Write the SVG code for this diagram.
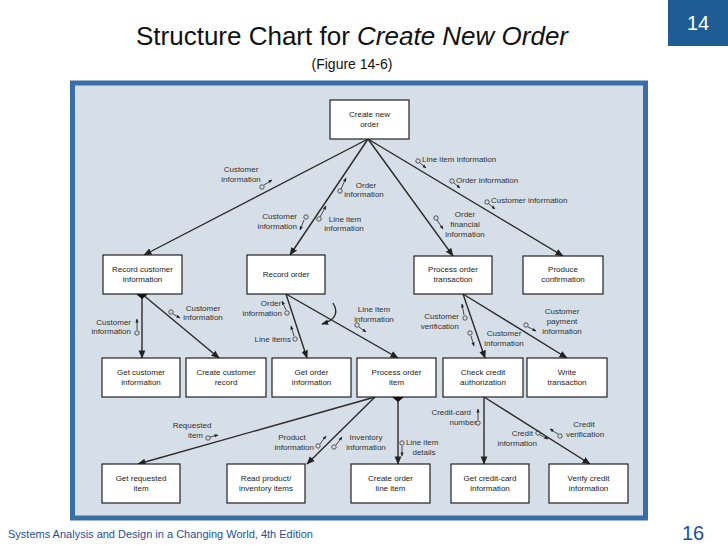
<svg xmlns="http://www.w3.org/2000/svg" width="728" height="546" viewBox="0 0 728 546">
<style>
.bx{fill:#fff;stroke:#222;stroke-width:1.2}
.bt{font-family:"Liberation Sans",Arial,sans-serif;font-size:8px;fill:#222;text-anchor:middle}
.lb{font-family:"Liberation Sans",Arial,sans-serif;font-size:8px;fill:#333}
.c{stroke:#2a2a2a;stroke-width:1.4;fill:none}
.dc circle{fill:none;stroke:#333;stroke-width:0.8}
.dc line{stroke:#222;stroke-width:0.8}
</style>
<defs>
<marker id="ah" viewBox="0 0 10 10" refX="9" refY="5" markerWidth="6" markerHeight="6" orient="auto"><path d="M0,1 L10,5 L0,9 z" fill="#222"/></marker>
<marker id="sa" viewBox="0 0 10 10" refX="9" refY="5" markerWidth="5" markerHeight="5" orient="auto"><path d="M0,1 L10,5 L0,9 z" fill="#222"/></marker>
</defs>
<rect width="728" height="546" fill="#fff"/>
<text x="352" y="45" font-family="Liberation Sans,Arial,sans-serif" font-size="26" fill="#111" text-anchor="middle">Structure Chart for <tspan font-style="italic">Create New Order</tspan></text>
<text x="352" y="69" font-family="Liberation Sans,Arial,sans-serif" font-size="14" fill="#111" text-anchor="middle">(Figure 14-6)</text>
<rect x="668" y="0" width="60" height="46" fill="#1f5b95"/>
<text x="698" y="30" font-family="Liberation Sans,Arial,sans-serif" font-size="20" fill="#fff" text-anchor="middle">14</text>
<text x="8" y="538" font-family="Liberation Sans,Arial,sans-serif" font-size="11" fill="#1f4f9a">Systems Analysis and Design in a Changing World, 4th Edition</text>
<text x="693" y="540" font-family="Liberation Sans,Arial,sans-serif" font-size="20" fill="#1f4f9a" text-anchor="middle">16</text>
<rect x="72.500" y="83" width="573" height="435" fill="#d6dee7" stroke="#3a6ea8" stroke-width="5"/>
<g id="connectors">
<line class="c" x1="368" y1="139" x2="144" y2="255" marker-end="url(#ah)"/>
<line class="c" x1="368" y1="139" x2="290" y2="255" marker-end="url(#ah)"/>
<line class="c" x1="368" y1="139" x2="453" y2="256" marker-end="url(#ah)"/>
<line class="c" x1="368" y1="139" x2="563" y2="256" marker-end="url(#ah)"/>
<line class="c" x1="142" y1="294" x2="142" y2="358" marker-end="url(#ah)"/>
<line class="c" x1="142" y1="294" x2="219" y2="358" marker-end="url(#ah)"/>
<path d="M136,294 L142,289 L148,294 L142,299 z" fill="#111"/>
<line class="c" x1="286" y1="294" x2="307" y2="358" marker-end="url(#ah)"/>
<line class="c" x1="286" y1="294" x2="398" y2="358" marker-end="url(#ah)"/>
<path d="M333,303 Q342,318 322,324" class="c" stroke-width="1" marker-end="url(#sa)"/>
<line class="c" x1="463" y1="294" x2="485" y2="358" marker-end="url(#ah)"/>
<line class="c" x1="463" y1="294" x2="567" y2="358" marker-end="url(#ah)"/>
<line class="c" x1="375" y1="397" x2="138" y2="464" marker-end="url(#ah)"/>
<line class="c" x1="375" y1="397" x2="307" y2="464" marker-end="url(#ah)"/>
<line class="c" x1="398" y1="397" x2="398" y2="464" marker-end="url(#ah)"/>
<path d="M392,397 L398,392 L404,397 L398,402 z" fill="#111"/>
<line class="c" x1="484" y1="397" x2="484" y2="464" marker-end="url(#ah)"/>
<line class="c" x1="484" y1="397" x2="590" y2="464" marker-end="url(#ah)"/>
</g>
<g id="couples">
<g class="dc"><circle cx="262" cy="187" r="2.2"/><line x1="264" y1="185" x2="272" y2="180" marker-end="url(#sa)"/></g>
<g class="dc"><circle cx="340" cy="191" r="2.2"/><line x1="341" y1="189" x2="346" y2="178" marker-end="url(#sa)"/></g>
<g class="dc"><circle cx="306" cy="217" r="2.2"/><line x1="304" y1="220" x2="300" y2="230" marker-end="url(#sa)"/></g>
<g class="dc"><circle cx="319" cy="219" r="2.2"/><line x1="320" y1="217" x2="326" y2="206" marker-end="url(#sa)"/></g>
<g class="dc"><circle cx="418" cy="161" r="2.2"/><line x1="420" y1="163" x2="426" y2="168" marker-end="url(#sa)"/></g>
<g class="dc"><circle cx="452" cy="181" r="2.2"/><line x1="454" y1="183" x2="460" y2="188" marker-end="url(#sa)"/></g>
<g class="dc"><circle cx="487" cy="202" r="2.2"/><line x1="489" y1="204" x2="495" y2="209" marker-end="url(#sa)"/></g>
<g class="dc"><circle cx="436" cy="218" r="2.2"/><line x1="437" y1="220" x2="443" y2="229" marker-end="url(#sa)"/></g>
<g class="dc"><circle cx="137" cy="333" r="2.2"/><line x1="137" y1="330" x2="137" y2="319" marker-end="url(#sa)"/></g>
<g class="dc"><circle cx="171" cy="312" r="2.2"/><line x1="173" y1="314" x2="180" y2="318" marker-end="url(#sa)"/></g>
<g class="dc"><circle cx="287" cy="313" r="2.2"/><line x1="286" y1="310" x2="282" y2="301" marker-end="url(#sa)"/></g>
<g class="dc"><circle cx="295" cy="339" r="2.2"/><line x1="294" y1="336" x2="291" y2="326" marker-end="url(#sa)"/></g>
<g class="dc"><circle cx="357" cy="325" r="2.2"/><line x1="359" y1="327" x2="366" y2="332" marker-end="url(#sa)"/></g>
<g class="dc"><circle cx="465" cy="318" r="2.2"/><line x1="464" y1="315" x2="462" y2="304" marker-end="url(#sa)"/></g>
<g class="dc"><circle cx="470" cy="333" r="2.2"/><line x1="471" y1="336" x2="474" y2="346" marker-end="url(#sa)"/></g>
<g class="dc"><circle cx="526" cy="325" r="2.2"/><line x1="528" y1="327" x2="536" y2="331" marker-end="url(#sa)"/></g>
<g class="dc"><circle cx="208" cy="438" r="2.2"/><line x1="210" y1="437" x2="218" y2="435" marker-end="url(#sa)"/></g>
<g class="dc"><circle cx="318" cy="446" r="2.2"/><line x1="320" y1="444" x2="326" y2="436" marker-end="url(#sa)"/></g>
<g class="dc"><circle cx="334" cy="447" r="2.2"/><line x1="336" y1="445" x2="342" y2="437" marker-end="url(#sa)"/></g>
<g class="dc"><circle cx="402" cy="443" r="2.2"/><line x1="402" y1="446" x2="402" y2="456" marker-end="url(#sa)"/></g>
<g class="dc"><circle cx="478" cy="423" r="2.2"/><line x1="478" y1="420" x2="478" y2="409" marker-end="url(#sa)"/></g>
<g class="dc"><circle cx="538" cy="433" r="2.2"/><line x1="540" y1="435" x2="548" y2="439" marker-end="url(#sa)"/></g>
<g class="dc"><circle cx="560" cy="436" r="2.2"/><line x1="558" y1="434" x2="550" y2="429" marker-end="url(#sa)"/></g>
</g>
<g id="labels" class="lb">
<text x="241" y="172" text-anchor="middle">Customer</text><text x="241" y="182" text-anchor="middle">information</text>
<text x="366" y="188" text-anchor="middle">Order</text><text x="364" y="197" text-anchor="middle">information</text>
<text x="297" y="219" text-anchor="end">Customer</text><text x="297" y="229" text-anchor="end">information</text>
<text x="345" y="222" text-anchor="middle">Line item</text><text x="344" y="231" text-anchor="middle">information</text>
<text x="422" y="162">Line item information</text>
<text x="456" y="183">Order information</text>
<text x="491" y="203">Customer information</text>
<text x="465" y="217" text-anchor="middle">Order</text><text x="465" y="227" text-anchor="middle">financial</text><text x="465" y="237" text-anchor="middle">information</text>
<text x="131" y="325" text-anchor="end">Customer</text><text x="131" y="334" text-anchor="end">information</text>
<text x="203" y="311" text-anchor="middle">Customer</text><text x="203" y="320" text-anchor="middle">information</text>
<text x="271" y="306" text-anchor="middle">Order</text><text x="282" y="316" text-anchor="end">information</text>
<text x="291" y="342" text-anchor="end">Line items</text>
<text x="374" y="312" text-anchor="middle">Line item</text><text x="374" y="322" text-anchor="middle">information</text>
<text x="459" y="319" text-anchor="end">Customer</text><text x="459" y="329" text-anchor="end">verification</text>
<text x="504" y="336" text-anchor="middle">Customer</text><text x="504" y="346" text-anchor="middle">information</text>
<text x="562" y="314" text-anchor="middle">Customer</text><text x="562" y="324" text-anchor="middle">payment</text><text x="562" y="334" text-anchor="middle">information</text>
<text x="192" y="428" text-anchor="middle">Requested</text><text x="203" y="438" text-anchor="end">item</text>
<text x="292" y="440" text-anchor="middle">Product</text><text x="314" y="450" text-anchor="end">information</text>
<text x="366" y="440" text-anchor="middle">Inventory</text><text x="366" y="450" text-anchor="middle">information</text>
<text x="406" y="445">Line item</text><text x="424" y="455" text-anchor="middle">details</text>
<text x="471" y="415" text-anchor="end">Credit-card</text><text x="463" y="425" text-anchor="middle">number</text>
<text x="533" y="436" text-anchor="end">Credit</text><text x="537" y="446" text-anchor="end">information</text>
<text x="584" y="427" text-anchor="middle">Credit</text><text x="585" y="437" text-anchor="middle">verification</text>
</g>
<g id="n-create"><rect class="bx" x="330" y="100" width="79" height="39"/><text class="bt" x="369.500" y="117">Create new</text><text class="bt" x="369.500" y="127">order</text></g>
<g id="n-rci"><rect class="bx" x="103" y="255" width="79" height="39"/><text class="bt" x="142.500" y="272">Record customer</text><text class="bt" x="142.500" y="282">information</text></g>
<g id="n-ro"><rect class="bx" x="247" y="255" width="78" height="39"/><text class="bt" x="286" y="277">Record order</text></g>
<g id="n-pot"><rect class="bx" x="414" y="256" width="78" height="38"/><text class="bt" x="453" y="272">Process order</text><text class="bt" x="453" y="282">transaction</text></g>
<g id="n-pc"><rect class="bx" x="523" y="256" width="80" height="38"/><text class="bt" x="563" y="272">Produce</text><text class="bt" x="563" y="282">confirmation</text></g>
<g id="n-gci"><rect class="bx" x="102" y="358" width="78" height="39"/><text class="bt" x="141" y="375">Get customer</text><text class="bt" x="141" y="385">information</text></g>
<g id="n-ccr"><rect class="bx" x="186" y="358" width="80" height="39"/><text class="bt" x="226" y="375">Create customer</text><text class="bt" x="226" y="385">record</text></g>
<g id="n-goi"><rect class="bx" x="272" y="358" width="79" height="39"/><text class="bt" x="311.500" y="375">Get order</text><text class="bt" x="311.500" y="385">information</text></g>
<g id="n-poi"><rect class="bx" x="357" y="358" width="79" height="39"/><text class="bt" x="396.500" y="375">Process order</text><text class="bt" x="396.500" y="385">item</text></g>
<g id="n-cca"><rect class="bx" x="443" y="358" width="80" height="39"/><text class="bt" x="483" y="375">Check credit</text><text class="bt" x="483" y="385">authorization</text></g>
<g id="n-wt"><rect class="bx" x="527" y="358" width="80" height="39"/><text class="bt" x="567" y="375">Write</text><text class="bt" x="567" y="385">transaction</text></g>
<g id="n-gri"><rect class="bx" x="102" y="464" width="78" height="39"/><text class="bt" x="141" y="481">Get requested</text><text class="bt" x="141" y="491">item</text></g>
<g id="n-rpi"><rect class="bx" x="227" y="464" width="78" height="39"/><text class="bt" x="266" y="481">Read product/</text><text class="bt" x="266" y="491">inventory items</text></g>
<g id="n-col"><rect class="bx" x="351" y="464" width="79" height="39"/><text class="bt" x="390.500" y="481">Create order</text><text class="bt" x="390.500" y="491">line item</text></g>
<g id="n-gcc"><rect class="bx" x="451" y="464" width="78" height="39"/><text class="bt" x="490" y="481">Get credit-card</text><text class="bt" x="490" y="491">information</text></g>
<g id="n-vci"><rect class="bx" x="549" y="464" width="79" height="39"/><text class="bt" x="588.500" y="481">Verify credit</text><text class="bt" x="588.500" y="491">information</text></g>
</svg>
